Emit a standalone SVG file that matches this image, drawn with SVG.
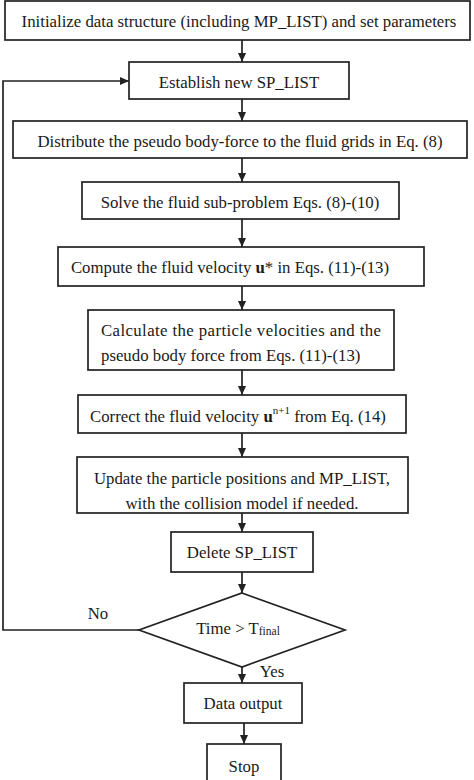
<svg xmlns="http://www.w3.org/2000/svg" width="474" height="780" viewBox="0 0 474 780">
<style>
.box{fill:#fff;stroke:#222;stroke-width:1.7}
.t{font-family:"Liberation Serif","Times New Roman",serif;font-size:16.8px;fill:#1a1a1a;text-anchor:middle;dominant-baseline:central}
.l{text-anchor:start}
.ln{fill:none;stroke:#222;stroke-width:1.7}
</style>
<defs>
<marker id="ah" markerWidth="10" markerHeight="10" refX="9" refY="4" orient="auto" markerUnits="userSpaceOnUse">
<path d="M0,0 L9,4 L0,8 Z" fill="#222"/>
</marker>
</defs>
<rect width="474" height="780" fill="#fff"/>
<g id="connectors">
<line class="ln" x1="242" y1="40" x2="242" y2="62" marker-end="url(#ah)"/>
<line class="ln" x1="242" y1="99" x2="242" y2="121" marker-end="url(#ah)"/>
<line class="ln" x1="242" y1="158" x2="242" y2="182" marker-end="url(#ah)"/>
<line class="ln" x1="242" y1="219" x2="242" y2="247" marker-end="url(#ah)"/>
<line class="ln" x1="242" y1="286" x2="242" y2="310" marker-end="url(#ah)"/>
<line class="ln" x1="242" y1="370" x2="242" y2="395" marker-end="url(#ah)"/>
<line class="ln" x1="242" y1="433" x2="242" y2="457" marker-end="url(#ah)"/>
<line class="ln" x1="242" y1="513" x2="242" y2="532" marker-end="url(#ah)"/>
<line class="ln" x1="242" y1="572" x2="242" y2="593" marker-end="url(#ah)"/>
<line class="ln" x1="242" y1="667" x2="242" y2="683" marker-end="url(#ah)"/>
<line class="ln" x1="244" y1="723" x2="244" y2="744" marker-end="url(#ah)"/>
<polyline class="ln" points="139,630 3,630 3,81 129,81" marker-end="url(#ah)"/>
<text class="t" x="98" y="613">No</text>
<text class="t" x="272" y="671">Yes</text>
</g>
<g id="n1"><rect class="box" x="5" y="1" width="465" height="39"/><text class="t" x="239" y="21">Initialize data structure (including MP_LIST) and set parameters</text></g>
<g id="n2"><rect class="box" x="129" y="62" width="220" height="37"/><text class="t" x="239" y="82">Establish new SP_LIST</text></g>
<g id="n3"><rect class="box" x="13" y="121" width="454" height="37"/><text class="t" x="240" y="141">Distribute the pseudo body-force to the fluid grids in Eq. (8)</text></g>
<g id="n4"><rect class="box" x="82" y="182" width="317" height="37"/><text class="t" x="240" y="202">Solve the fluid sub-problem Eqs. (8)-(10)</text></g>
<g id="n5"><rect class="box" x="58" y="247" width="366" height="39"/><text class="t" x="230" y="267">Compute the fluid velocity <tspan font-weight="bold">u</tspan>* in Eqs. (11)-(13)</text></g>
<g id="n6"><rect class="box" x="88" y="310" width="306" height="60"/><text class="t l" x="101" y="330" textLength="280" lengthAdjust="spacing">Calculate the particle velocities and the</text><text class="t l" x="101" y="355">pseudo body force from Eqs. (11)-(13)</text></g>
<g id="n7"><rect class="box" x="78" y="395" width="328" height="38"/><text class="t" x="238" y="416">Correct the fluid velocity <tspan font-weight="bold">u</tspan><tspan font-size="11" dy="-6">n+1</tspan><tspan dy="6"> from Eq. (14)</tspan></text></g>
<g id="n8"><rect class="box" x="77" y="457" width="331" height="56"/><text class="t" x="242" y="478">Update the particle positions and MP_LIST,</text><text class="t" x="242" y="503">with the collision model if needed.</text></g>
<g id="n9"><rect class="box" x="171" y="532" width="142" height="40"/><text class="t" x="242" y="552">Delete SP_LIST</text></g>
<g id="n10"><polygon class="box" points="242,593 345,630 242,667 139,630"/><text class="t" x="238" y="628">Time &gt; T<tspan font-size="11.5" dy="3">final</tspan></text></g>
<g id="n11"><rect class="box" x="184" y="683" width="118" height="40"/><text class="t" x="243" y="703">Data output</text></g>
<g id="n12"><rect class="box" x="207" y="744" width="74" height="40"/><text class="t" x="244" y="766">Stop</text></g>
</svg>
